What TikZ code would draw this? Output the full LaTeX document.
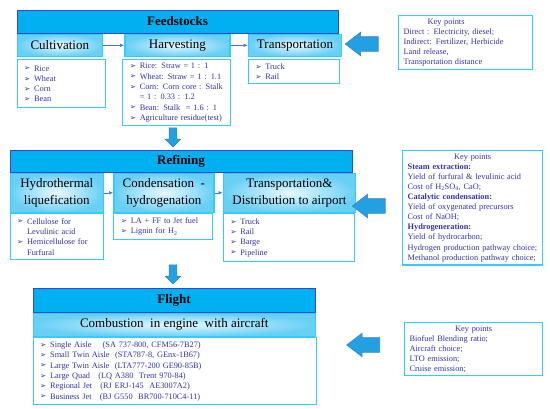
\documentclass[tikz,border=0pt]{standalone}
\usepackage{fontspec}
\setmainfont{Liberation Serif}
\newfontfamily\symfont{DejaVu Sans}
\usepackage{xcolor}
\usepackage{tikz}
\usetikzlibrary{positioning,arrows.meta,shapes.arrows}
\definecolor{hdrfill}{RGB}{0,176,240}
\definecolor{hdrline}{RGB}{55,70,210}
\definecolor{cyanline}{RGB}{51,204,255}
\definecolor{ttlinner}{RGB}{232,248,255}
\definecolor{ttlouter}{RGB}{105,208,245}
\definecolor{listblue}{RGB}{50,50,170}
\definecolor{arrfill}{RGB}{35,160,225}
\definecolor{arrline}{RGB}{60,130,210}
\definecolor{smallarr}{RGB}{70,120,210}
\newcommand\bul{\makebox[10pt][l]{\raisebox{0.3pt}{\symfont\fontsize{7.5}{7.5}\selectfont\char"27A2}}}
\newcommand\cont{\hspace*{10pt}}
\tikzset{
  hdr/.style={draw=hdrline, line width=1pt, fill=hdrfill, inner sep=0pt, font=\fontsize{13}{15}\selectfont\bfseries},
  ttl/.style={draw=cyanline, line width=1.6pt, inner color=ttlinner, outer color=ttlouter, align=center, inner sep=0pt, minimum height=22pt, font=\fontsize{13}{17}\selectfont},
  lst/.style={draw=cyanline, line width=1.3pt, fill=white, align=left, inner xsep=7pt, inner ysep=2pt, text=listblue, font=\fontsize{8.3}{10.3}\selectfont},
  keyb/.style={draw=cyanline, line width=1.3pt, fill=white, align=left, inner xsep=5pt, inner ysep=3pt, text=listblue, font=\fontsize{8.3}{10.1}\selectfont},
  bigarr/.style={single arrow, shape border rotate=180, draw=arrline, line width=0.6pt, fill=arrfill, minimum height=33pt, minimum width=23pt, single arrow head extend=4.5pt, single arrow tip angle=75, inner sep=7pt},
  downarr/.style={single arrow, shape border rotate=270, draw=arrline, line width=0.6pt, fill=arrfill, minimum height=19pt, minimum width=15pt, single arrow head extend=4pt, inner sep=3.5pt},
  arr/.style={-{Latex[length=4pt,width=3.5pt]}, line width=0.6pt, draw=smallarr},
}
\begin{document}
\begin{tikzpicture}[x=1pt,y=-1pt]
  \useasboundingbox (0,0) rectangle (550,408);
  \node[hdr, minimum width=321pt, minimum height=23pt] (feed) at (177.5,21.5) {Feedstocks};
  \node[ttl, minimum width=85pt, anchor=north west] (cult) at (feed.south west) {Cultivation};
  \node[ttl, minimum width=105pt, right=21pt of cult] (harv) {Harvesting};
  \node[ttl, minimum width=93pt, right=17pt of harv] (trans) {Transportation};
  \node[lst, text width=74pt, minimum height=48pt, below=2pt of cult.south west, anchor=north west] (cultl) {\bul Rice\\ \bul Wheat\\ \bul Corn\\ \bul Bean};
  \node[lst, text width=94pt, minimum height=66pt, below=2pt of harv.south west, anchor=north west, xshift=-2pt] (harvl) {\bul Rice: Straw = 1 : 1\\ \bul Wheat: Straw = 1 : 1.1\\ \bul Corn: Corn core : Stalk\\ \cont = 1 : 0.33 : 1.2\\ \bul Bean: Stalk\ \ = 1.6 : 1\\ \bul Agriculture residue(test)};
  \node[lst, text width=77pt, minimum height=24pt, below=2pt of trans.south west, anchor=north west] (transl) {\bul Truck\\ \bul Rail};
  \node[keyb, text width=124pt, anchor=north west] (key1) at (398,15) {\hspace*{24pt}Key points\\ Direct : Electricity, diesel;\\ Indirect: Fertilizer, Herbicide\\ Land release,\\ Transportation distance};
  \node[bigarr] (karr1) at (366.5,44) {};
  \node[downarr] (down1) at (173,135.5) {};
  \node[hdr, minimum width=342pt, minimum height=22pt] (refi) at (181,161) {Refining};
  \node[ttl, minimum width=93pt, minimum height=39pt, anchor=north west] (hydro) at (refi.south west) {Hydrothermal\\ liquefication};
  \node[ttl, minimum width=100pt, minimum height=39pt, right=9pt of hydro] (cond) {Condensation\ \ -\\ hydrogenation};
  \node[ttl, minimum width=132pt, minimum height=39pt, right=8pt of cond] (dist) {Transportation\&\\ Distribution\ to airport};
  \node[lst, text width=79pt, minimum height=46pt, below=0pt of hydro.south west, anchor=north west] (hydrol) {\bul Cellulose for\\ \cont Levulinic acid\\ \bul Hemicellulose for\\ \cont Furfural};
  \node[lst, text width=85pt, minimum height=26pt, below=0pt of cond.south west, anchor=north west] (condl) {\bul LA + FF to Jet fuel\\ \bul Lignin for H\textsubscript{2}};
  \node[lst, text width=117pt, minimum height=48pt, below=0pt of dist.south west, anchor=north west] (distl) {\bul Truck\\ \bul Rail\\ \bul Barge\\ \bul Pipeline};
  \node[keyb, text width=130pt, anchor=north west] (key2) at (402,150) {\makebox[\linewidth]{Key points}\\ \textbf{Steam extraction:}\\ Yield of furfural \& levulinic acid\\ Cost of H\textsubscript{2}SO\textsubscript{4}, CaO;\\ \textbf{Catalytic condensation:}\\ Yield of oxygenated\ precursors\\ Cost of NaOH;\\ \textbf{Hydrogeneration:}\\ Yield of hydrocarbon;\\ Hydrogen production pathway choice;\\ Methanol production pathway\ choice;};
  \node[bigarr] (karr2) at (373.5,206) {};
  \node[downarr] (down2) at (173,272.5) {};
  \node[hdr, minimum width=282pt, minimum height=24pt] (flight) at (174,300) {Flight};
  \node[ttl, minimum width=282pt, minimum height=23pt, anchor=north west] (comb) at (flight.south west) {Combustion\ \ in\ engine\ \ with\ aircraft};
  \node[lst, text width=269pt, minimum height=67pt, below=0pt of comb.south west, anchor=north west] (combl) {\bul Single Aisle\ \ \ \ (SA 737-800, CFM56-7B27)\\ \bul Small Twin Aisle\ \ (STA787-8, GEnx-1B67)\\ \bul Large Twin Aisle\ \ (LTA777-200\ GE90-85B)\\ \bul Large Quad\ \ \ (LQ A380\ \ Trent 970-84)\\ \bul Regional Jet\ \ \ (RJ ERJ-145\ \ AE3007A2)\\ \bul Business Jet\ \ \ (BJ G550\ \ BR700-710C4-11)};
  \node[keyb, text width=128pt, anchor=north west] (key3) at (404,322) {\makebox[\linewidth]{Key points}\\ Biofuel Blending ratio;\\ Aircraft choice;\\ LTO emission;\\ Cruise emission;};
  \node[bigarr] (karr3) at (368,345) {};
  \draw[arr] (cult) -- (harv);
  \draw[arr] (harv) -- (trans);
  \draw[arr] (hydro) -- (cond);
  \draw[arr] (cond) -- (dist);
\end{tikzpicture}
\end{document}
